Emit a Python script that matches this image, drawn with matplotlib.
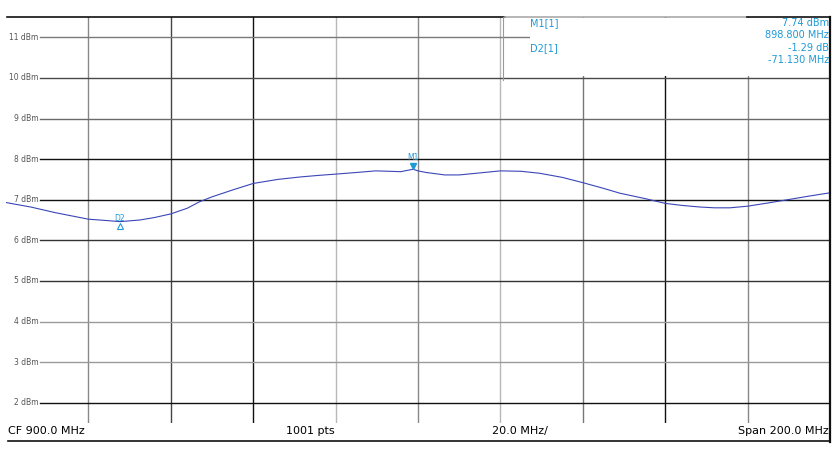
import matplotlib
matplotlib.use("Agg")
import matplotlib.pyplot as plt
import matplotlib.transforms as mtransforms
from matplotlib.patches import Rectangle
from matplotlib import font_manager

# trace (MHz, dBm)
freq_mhz = [800, 806, 812, 820, 824, 827.7, 832.5, 836, 840, 844, 847, 850, 855, 860,
            866, 871.4, 876, 880, 885, 889.7, 893, 895.8, 898.8, 900, 902, 906.5, 910,
            915, 920, 925, 929.6, 935, 940, 945, 949, 955, 960, 964, 968.4, 972,
            975.7, 980, 985, 990.3, 995, 1000]
level_dbm = [6.93, 6.82, 6.68, 6.52, 6.49, 6.46, 6.50, 6.56, 6.65, 6.79, 6.95, 7.07, 7.24, 7.40,
             7.50, 7.56, 7.60, 7.63, 7.67, 7.71, 7.70, 7.69, 7.75, 7.71, 7.67, 7.61, 7.61,
             7.66, 7.71, 7.70, 7.65, 7.55, 7.42, 7.28, 7.16, 7.03, 6.91, 6.86, 6.82, 6.80,
             6.80, 6.84, 6.92, 7.01, 7.09, 7.17]

y_ticks = [11, 10, 9, 8, 7, 6, 5, 4, 3, 2]
x_grid = [820, 840, 860, 880, 900, 920, 940, 960, 980]

m1 = (898.8, 7.74)
d2 = (898.8 - 71.13, 7.74 - 1.29)

W, H = 840, 449
BLUE = "#1f9ad6"
TRACE = "#3a46b8"

names = {f.name for f in font_manager.fontManager.ttflist}
narrow = "Liberation Sans Narrow" if "Liberation Sans Narrow" in names else "DejaVu Sans"

fig = plt.figure(figsize=(W / 100, H / 100), dpi=100)
fig.patch.set_facecolor("white")

def px(x0, y0, x1, y1):
    return [x0 / W, 1 - y1 / H, (x1 - x0) / W, (y1 - y0) / H]

ax = fig.add_axes(px(6, 17, 830, 423))
ax.set_xlim(800, 1000)
ax.set_ylim(1.5, 11.5)
for s in ax.spines.values():
    s.set_visible(False)
ax.set_xticks([]); ax.set_yticks([])

hcol = {11: "#7a7a7a", 10: "#4a4a4a", 9: "#6a6a6a", 8: "#111111", 7: "#111111",
        6: "#333333", 5: "#333333", 4: "#9a9a9a", 3: "#9a9a9a", 2: "#111111"}
vcol = {820: "#888888", 840: "#444444", 860: "#111111", 880: "#b8b8b8", 900: "#888888",
        920: "#b8b8b8", 940: "#777777", 960: "#111111", 980: "#888888"}

blend = mtransforms.blended_transform_factory(ax.transAxes, ax.transData)
for v in x_grid:
    ax.axvline(v, color=vcol[v], lw=1.0, zorder=1)
for v in y_ticks:
    ax.axhline(v, xmin=0.041, xmax=1, color=hcol[v], lw=1.0, zorder=1)
    ax.text(0.039, v, f"{v} dBm", transform=blend, ha="right", va="center",
            fontsize=5.5, color="#555555")

ax.plot(freq_mhz, level_dbm, color=TRACE, lw=0.8, zorder=3)

# markers
ax.plot([m1[0]], [m1[1] + 0.08], marker="v", ms=4.5, color=BLUE, mec=BLUE, zorder=4)
ax.text(m1[0], m1[1] + 0.18, "M1", ha="center", va="bottom", fontsize=5.5, color=BLUE, zorder=4)
ax.plot([d2[0]], [d2[1] - 0.1], marker="^", ms=4.5, color="none", mec=BLUE, mew=0.8, zorder=4)
ax.text(d2[0], d2[1] - 0.02, "D2", ha="center", va="bottom", fontsize=5.5, color=BLUE, zorder=4)

# overlay in pixel coordinates
ov = fig.add_axes([0, 0, 1, 1])
ov.set_xlim(0, W); ov.set_ylim(H, 0)
ov.axis("off")
ov.add_patch(Rectangle((530, 17.5), 300, 58, facecolor="white", edgecolor="none"))
ov.plot([7, 505], [17, 17], color="#111111", lw=1.2)
ov.plot([505, 747], [17, 17], color="#aaaaaa", lw=1.2)
ov.plot([747, 830], [17, 17], color="#111111", lw=1.2)
ov.plot([830, 830], [17, 442], color="#111111", lw=1.6)
ov.plot([8, 830], [441, 441], color="#111111", lw=1.2)
ov.plot([503, 503], [17, 80], color="#999999", lw=0.8)

ov.text(530, 23, "M1[1]", fontsize=7, color=BLUE, va="center", ha="left")
ov.text(530, 48, "D2[1]", fontsize=7, color=BLUE, va="center", ha="left")
ov.text(829, 23, "7.74 dBm", fontsize=7, color=BLUE, va="center", ha="right")
ov.text(829, 35, "898.800 MHz", fontsize=7, color=BLUE, va="center", ha="right")
ov.text(829, 48, "-1.29 dB", fontsize=7, color=BLUE, va="center", ha="right")
ov.text(829, 60, "-71.130 MHz", fontsize=7, color=BLUE, va="center", ha="right")

ov.text(8, 431, "CF 900.0 MHz", fontsize=8, family=narrow, va="center", ha="left")
ov.text(310, 431, "1001 pts", fontsize=8, family=narrow, va="center", ha="center")
ov.text(492, 431, "20.0 MHz/", fontsize=8, family=narrow, va="center", ha="left")
ov.text(829, 431, "Span 200.0 MHz", fontsize=8, family=narrow, va="center", ha="right")

fig.savefig("out.png", dpi=100)
